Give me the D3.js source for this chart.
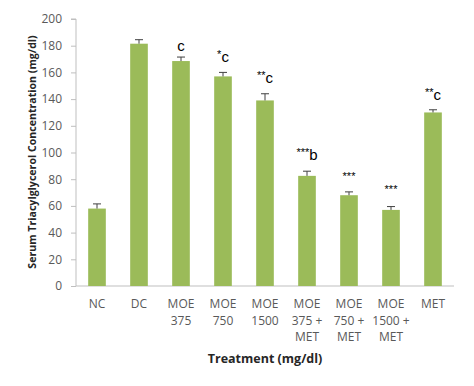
<!DOCTYPE html>
<html lang="en">
<head>
  <meta charset="UTF-8">
  <title>Serum Triacylglycerol</title>
  <style>
    body { margin: 0; background: #fff; }
    .tick text { font-family: "Open Sans", sans-serif; font-size: 12px; fill: #595959; }
    .axis-title { font-family: "Open Sans", sans-serif; font-weight: bold; fill: #262626; }
    .note { font-family: "Liberation Sans", Arial, sans-serif; fill: #000; }
  </style>
</head>
<body>
  <script src="https://cdn.jsdelivr.net/npm/d3@7"></script>
  <script>
    const categories = ['NC', 'DC', 'MOE 375', 'MOE 750', 'MOE 1500', 'MOE 375 + MET', 'MOE 750 + MET', 'MOE 1500 + MET', 'MET'];
    const labelLines = [['NC'], ['DC'], ['MOE', '375'], ['MOE', '750'], ['MOE', '1500'], ['MOE', '375 +', 'MET'], ['MOE', '750 +', 'MET'], ['MOE', '1500 +', 'MET'], ['MET']];
    const values = [58, 181.5, 168.5, 157, 139, 82.5, 68, 57, 130];
    const errors = [3.5, 3, 3, 3, 5, 3.5, 2.5, 2.5, 2];
    const stars = ['', '', '', '*', '**', '***', '***', '***', '**'];
    const letters = ['', '', 'c', 'c', 'c', 'b', '', '', 'c'];
    const yTicks = d3.range(0, 201, 20);

    const width = 474, height = 386;
    const mLeft = 76, mRight = 454, mTop = 19, mBottom = 286;

    const svg = d3.select('body').append('svg')
      .attr('width', width).attr('height', height);

    const x = d3.scaleBand().domain(categories).range([mLeft, mRight]).paddingInner(0.58).paddingOuter(0.29);
    const y = d3.scaleLinear().domain([0, 200]).range([mBottom, mTop]);

    // y axis
    const yAxis = svg.append('g')
      .attr('transform', `translate(${mLeft},0)`)
      .call(d3.axisLeft(y).tickValues(yTicks).tickSize(5).tickPadding(9));
    yAxis.selectAll('line, path').attr('stroke', '#bfbfbf');
    yAxis.select('.domain').attr('d', `M-5,${mTop}H0V${mBottom}`);

    // x axis line
    svg.append('line')
      .attr('x1', mLeft).attr('x2', mRight)
      .attr('y1', mBottom).attr('y2', mBottom)
      .attr('stroke', '#bfbfbf');

    // bars
    svg.selectAll('rect.bar').data(values)
      .enter().append('rect')
      .attr('class', 'bar')
      .attr('x', (d, i) => x(categories[i]))
      .attr('y', d => y(d))
      .attr('width', x.bandwidth())
      .attr('height', d => mBottom - y(d))
      .attr('fill', '#9bbb59');

    // error bars (upper only)
    const eb = svg.selectAll('g.err').data(values)
      .enter().append('g').attr('class', 'err')
      .attr('transform', (d, i) => `translate(${x(categories[i]) + x.bandwidth() / 2},0)`);
    eb.append('line')
      .attr('y1', d => y(d)).attr('y2', (d, i) => y(d + errors[i]))
      .attr('stroke', '#404040');
    eb.append('line')
      .attr('x1', -4).attr('x2', 4)
      .attr('y1', (d, i) => y(d + errors[i])).attr('y2', (d, i) => y(d + errors[i]))
      .attr('stroke', '#404040');

    // significance notes
    const noteY = [0, 0, 51, 62, 83, 160, 180, 193, 100];
    categories.forEach((c, i) => {
      if (!stars[i] && !letters[i]) return;
      const t = svg.append('text').attr('class', 'note')
        .attr('x', x(c) + x.bandwidth() / 2)
        .attr('y', noteY[i])
        .attr('text-anchor', 'middle');
      if (stars[i]) {
        t.append('tspan').attr('font-size', 11).attr('dy', letters[i] ? -4 : 0).text(stars[i]);
      }
      if (letters[i]) {
        t.append('tspan').attr('font-size', 15).attr('dy', stars[i] ? 4 : 0).text(letters[i]);
      }
    });

    // category labels
    categories.forEach((c, i) => {
      const t = svg.append('text')
        .attr('text-anchor', 'middle')
        .style('font-family', '"Open Sans", sans-serif')
        .style('font-size', '12px')
        .style('fill', '#595959');
      labelLines[i].forEach((ln, j) => {
        t.append('tspan')
          .attr('x', x(c) + x.bandwidth() / 2)
          .attr('y', 308 + j * 16.5)
          .text(ln);
      });
    });

    // axis titles
    svg.append('text').attr('class', 'axis-title')
      .attr('x', 265).attr('y', 363)
      .attr('text-anchor', 'middle')
      .style('font-size', '12.5px')
      .text('Treatment (mg/dl)');

    svg.append('text').attr('class', 'axis-title')
      .attr('transform', 'translate(36,152) rotate(-90)')
      .attr('text-anchor', 'middle')
      .style('font-size', '10.6px')
      .text('Serum  Triacylglycerol Concentration (mg/dl)');
  </script>
</body>
</html>
